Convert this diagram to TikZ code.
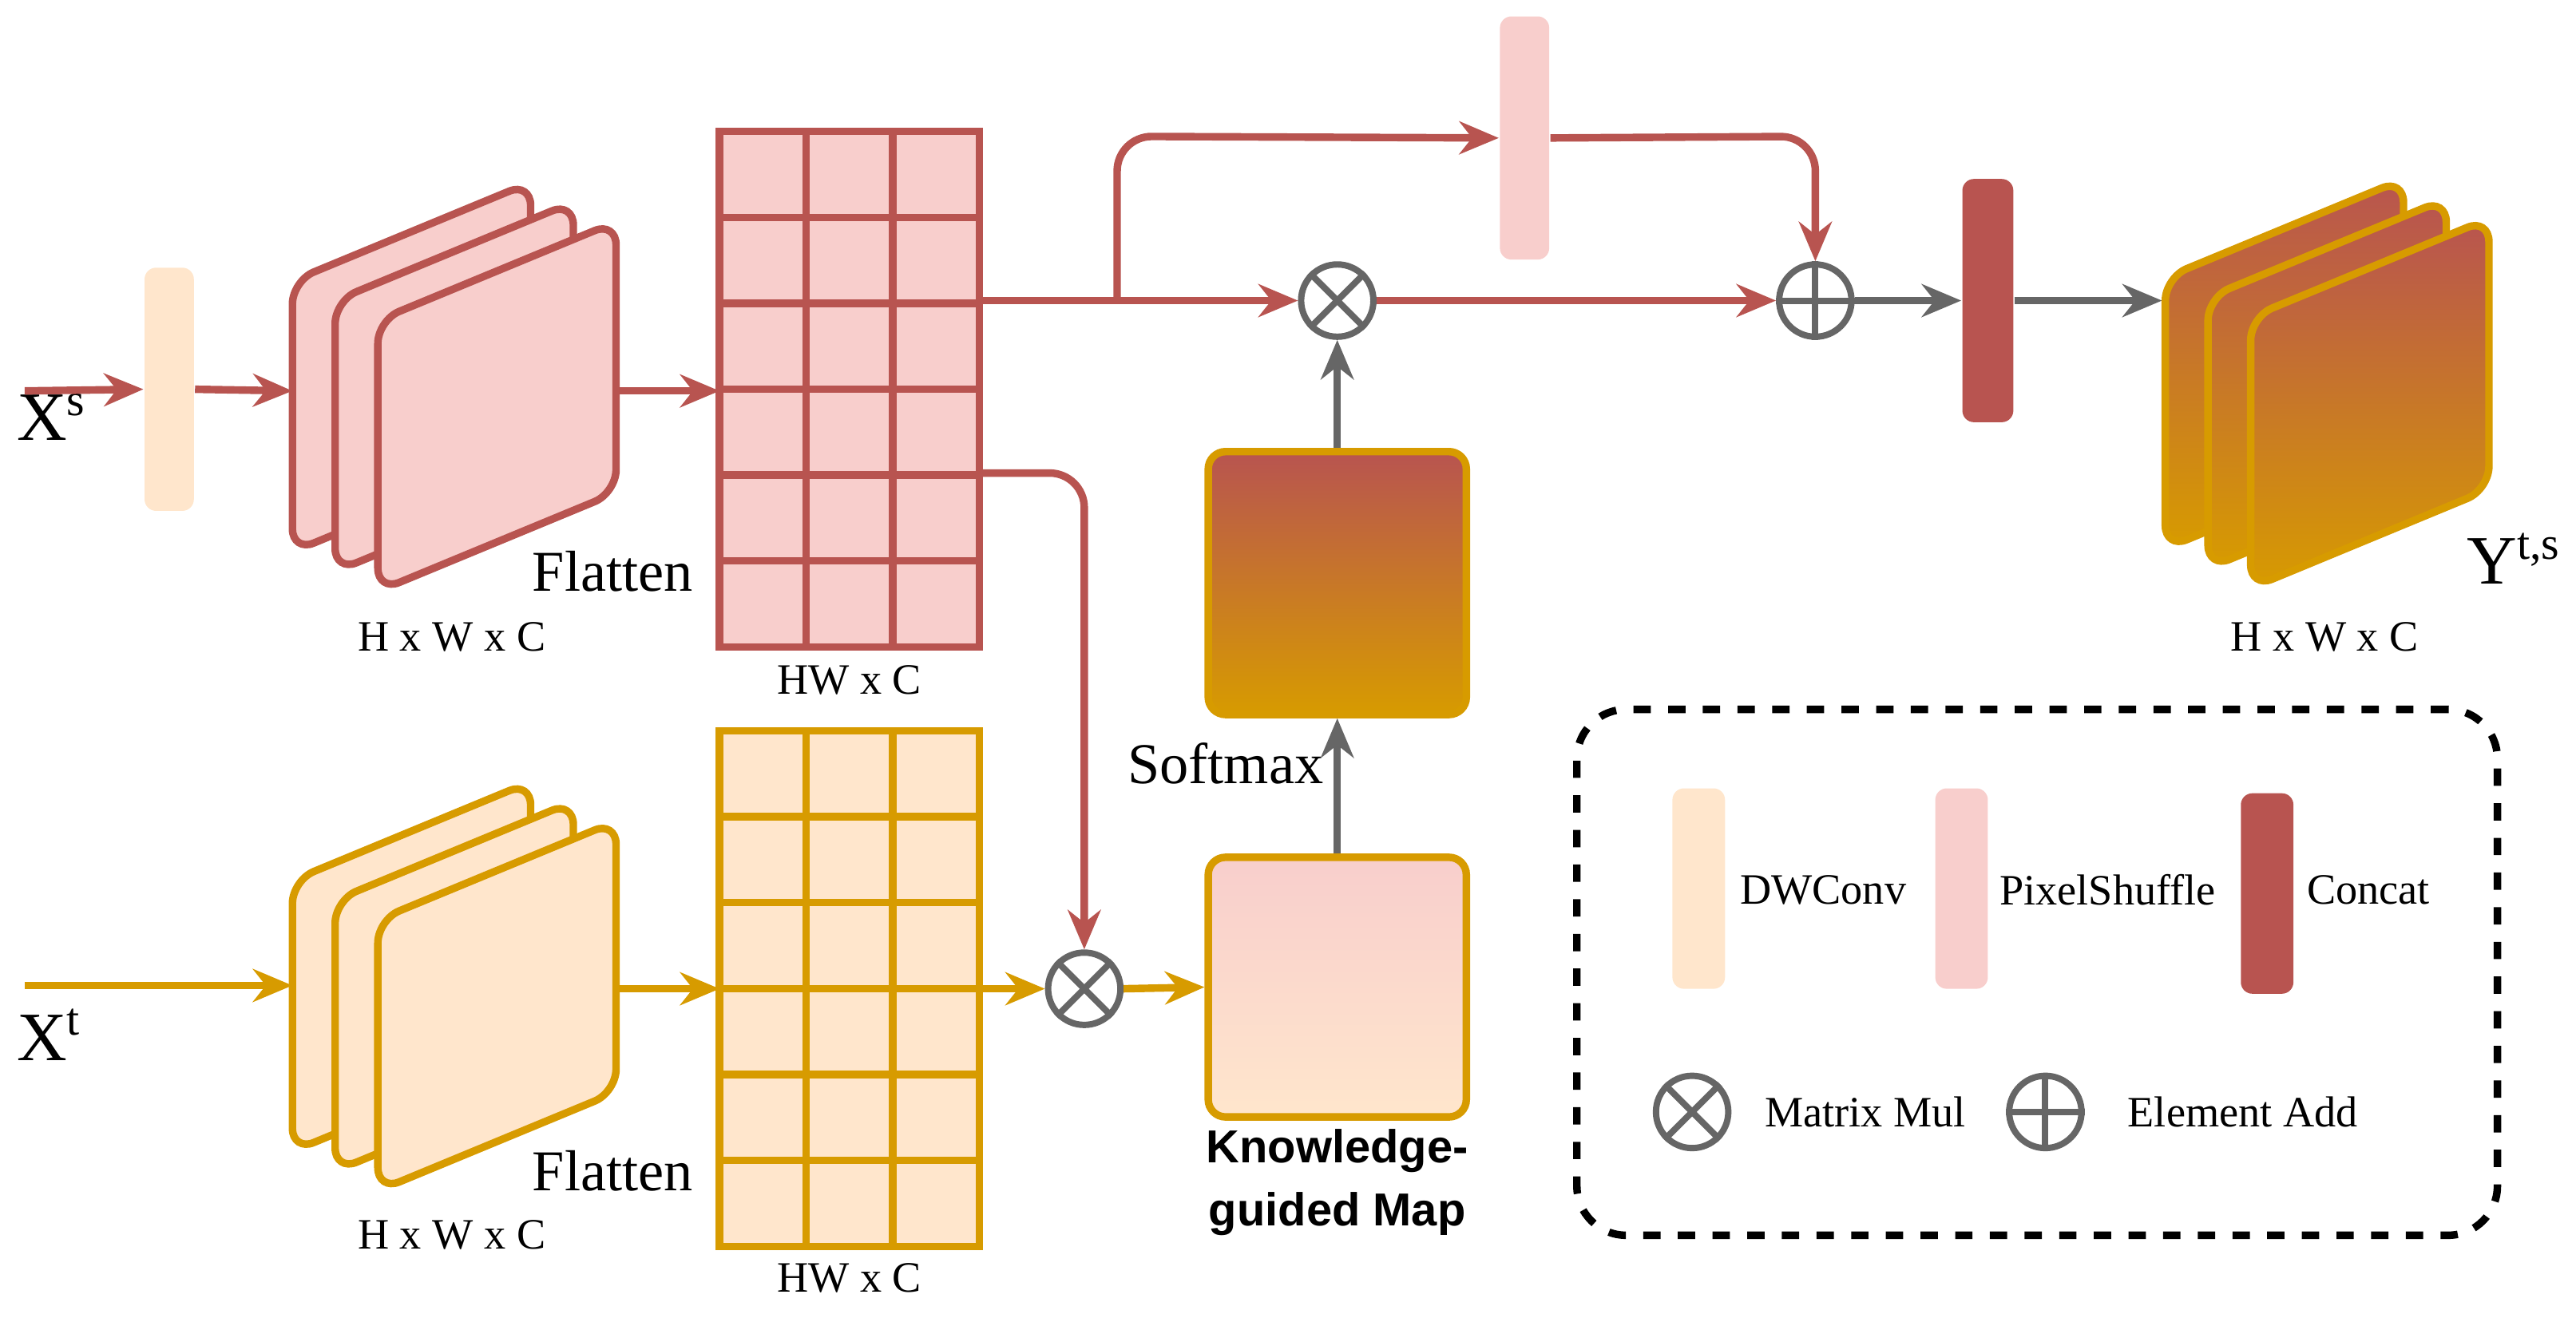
\documentclass[tikz,border=0pt]{standalone}
\usepackage{fontspec}
\setmainfont{Liberation Serif}
\newfontfamily\sansb{Liberation Sans}
\usetikzlibrary{arrows.meta}
\definecolor{red1}{HTML}{B85450}
\definecolor{pink1}{HTML}{F8CECC}
\definecolor{peach}{HTML}{FFE6CC}
\definecolor{orng}{HTML}{D79B00}
\definecolor{gry}{HTML}{666666}
\tikzset{
 x=0.01cm,y=-0.01cm,
 ln/.style={line width=1.3pt},
 ar/.style={ln,-{Stealth[length=0.24cm,width=0.2cm]}},
 rl/.style={ar,draw=red1},
 ol/.style={ar,draw=orng},
 gl/.style={ar,draw=gry},
 op/.style={circle,draw=gry,line width=1.1pt,minimum size=0.44cm,inner sep=0pt},
 blk/.style={rounded corners=2pt,draw=none},
 lab/.style={font=\fontsize{7.5}{9}\selectfont,inner sep=1pt},
 big/.style={font=\fontsize{12}{14}\selectfont,inner sep=1pt},
 mid/.style={font=\fontsize{10}{12}\selectfont,inner sep=1pt},
}
\newcommand{\myplane}[4]{%
 \path[draw=#4,line width=1.3pt,rounded corners=4pt,#3] (#1,#2) -- (#1,#2-165) -- (#1+145,#2-225) -- (#1+145,#2-60) -- cycle;}
\newcommand{\mystack}[4]{\myplane{#1}{#2}{#3}{#4}\myplane{#1+26}{#2+12}{#3}{#4}\myplane{#1+52}{#2+24}{#3}{#4}}
\newcommand{\mygrid}[3]{%
 \path[fill=#2,draw=#3,line width=1.3pt] (438,#1) rectangle (596,#1+314);
 \foreach \i in {1,2}{\draw[#3,line width=1.3pt] (438+\i*52.7,#1) -- (438+\i*52.7,#1+314);}
 \foreach \j in {1,...,5}{\draw[#3,line width=1.3pt] (438,#1+\j*52.3) -- (596,#1+\j*52.3);}}
\begin{document}
\begin{tikzpicture}
\useasboundingbox (0,0) rectangle (1568,802);
% upper branch
\node[big,anchor=west] (xs) at (6,254) {X\textsuperscript{s}};
\coordinate (xs0) at (15,238);
\node[blk,fill=peach,minimum width=0.3cm,minimum height=1.48cm] (dw) at (103,237) {};
\draw[rl] (xs0) -- (dw.west);
\coordinate (st1) at (178,238);
\draw[rl] (dw.east) -- (st1);
\mystack{178}{336}{fill=pink1}{red1}
\node[mid,anchor=east] (fl1) at (426,348) {Flatten};
\node[lab] (hw1) at (275,388) {H x W x C};
\mygrid{80}{pink1}{red1}
\node[lab] (hc1) at (517,414) {HW x C};
\coordinate (g1in) at (438,238);
\coordinate (s1out) at (375,238);
\draw[rl] (s1out) -- (g1in);
% lower branch
\node[big,anchor=west] (xt) at (6,630) {X\textsuperscript{t}};
\coordinate (xt0) at (15,600);
\coordinate (st2) at (178,600);
\draw[ol] (xt0) -- (st2);
\mystack{178}{701}{fill=peach}{orng}
\node[mid,anchor=east] (fl2) at (426,713) {Flatten};
\node[lab] (hw2) at (275,752) {H x W x C};
\mygrid{445}{peach}{orng}
\node[lab] (hc2) at (517,778) {HW x C};
\coordinate (s2out) at (375,602);
\coordinate (g2in) at (438,602);
\draw[ol] (s2out) -- (g2in);
% ops
\node[op] (m1) at (814,183) {};
\draw[gry,line width=1.1pt] (m1.north west) -- (m1.south east) (m1.north east) -- (m1.south west);
\node[op] (m2) at (660,602) {};
\draw[gry,line width=1.1pt] (m2.north west) -- (m2.south east) (m2.north east) -- (m2.south west);
\node[op] (a1) at (1105,183) {};
\draw[gry,line width=1.1pt] (a1.north) -- (a1.south) (a1.west) -- (a1.east);
\coordinate (g1a) at (596,183);
\coordinate (g1b) at (596,288);
\coordinate (g2a) at (596,602);
\draw[rl] (g1a) -- (m1.west);
\draw[rl,rounded corners=6pt] (g1b) -- (660,288) -- (m2.north);
\draw[ol] (g2a) -- (m2.west);
% pixel shuffle
\node[blk,fill=pink1,minimum width=0.3cm,minimum height=1.48cm] (ps) at (928,84) {};
\coordinate (br) at (680,183);
\draw[rl,rounded corners=6pt] (br) -- (680,83) -- (ps.west);
\draw[rl,rounded corners=6pt] (ps.east) -- (1105,83) -- (a1.north);
\draw[rl] (m1.east) -- (a1.west);
% concat
\node[blk,fill=red1,minimum width=0.31cm,minimum height=1.48cm] (cc) at (1210,183) {};
\draw[gl] (a1.east) -- (cc.west);
\coordinate (st3) at (1316,183);
\draw[gl] (cc.east) -- (st3);
\mystack{1318}{334}{top color=red1,bottom color=orng}{orng}
\node[big,anchor=east] (yts) at (1564,340) {Y\textsuperscript{t,s}};
\node[lab] (hw3) at (1415,388) {H x W x C};
% softmax & KG
\node[draw=orng,line width=1.3pt,rounded corners=3pt,minimum width=1.57cm,minimum height=1.6cm,top color=red1,bottom color=orng] (sm) at (814,355) {};
\node[mid] (smt) at (746,465) {Softmax};
\node[draw=orng,line width=1.3pt,rounded corners=3pt,minimum width=1.57cm,minimum height=1.58cm,top color=pink1,bottom color=peach] (kg) at (814,601) {};
\node[font=\sansb\bfseries\fontsize{8}{11}\selectfont,align=center] (kgt) at (814,720) {Knowledge-\\guided Map};
\draw[ol] (m2.east) -- (kg.west);
\draw[gl] (kg.north) -- (sm.south);
\draw[gl] (sm.north) -- (m1.south);
% legend
\node[draw,dashed,line width=1.3pt,rounded corners=0.3cm,minimum width=5.6cm,minimum height=3.2cm] (leg) at (1240,592) {};
\node[blk,fill=peach,minimum width=0.32cm,minimum height=1.22cm] (l1) at (1034,541) {};
\node[lab,anchor=west] (l1t) at (1055,542) {DWConv};
\node[blk,fill=pink1,minimum width=0.32cm,minimum height=1.22cm] (l2) at (1194,541) {};
\node[lab,anchor=west] (l2t) at (1213,542) {PixelShuffle};
\node[blk,fill=red1,minimum width=0.32cm,minimum height=1.22cm] (l3) at (1380,544) {};
\node[lab,anchor=west] (l3t) at (1400,542) {Concat};
\node[op] (l4) at (1030,677) {};
\draw[gry,line width=1.1pt] (l4.north west) -- (l4.south east) (l4.north east) -- (l4.south west);
\node[lab,anchor=west] (l4t) at (1070,677) {Matrix Mul};
\node[op] (l5) at (1245,677) {};
\draw[gry,line width=1.1pt] (l5.north) -- (l5.south) (l5.west) -- (l5.east);
\node[lab,anchor=west] (l5t) at (1291,677) {Element Add};
\end{tikzpicture}
\end{document}
